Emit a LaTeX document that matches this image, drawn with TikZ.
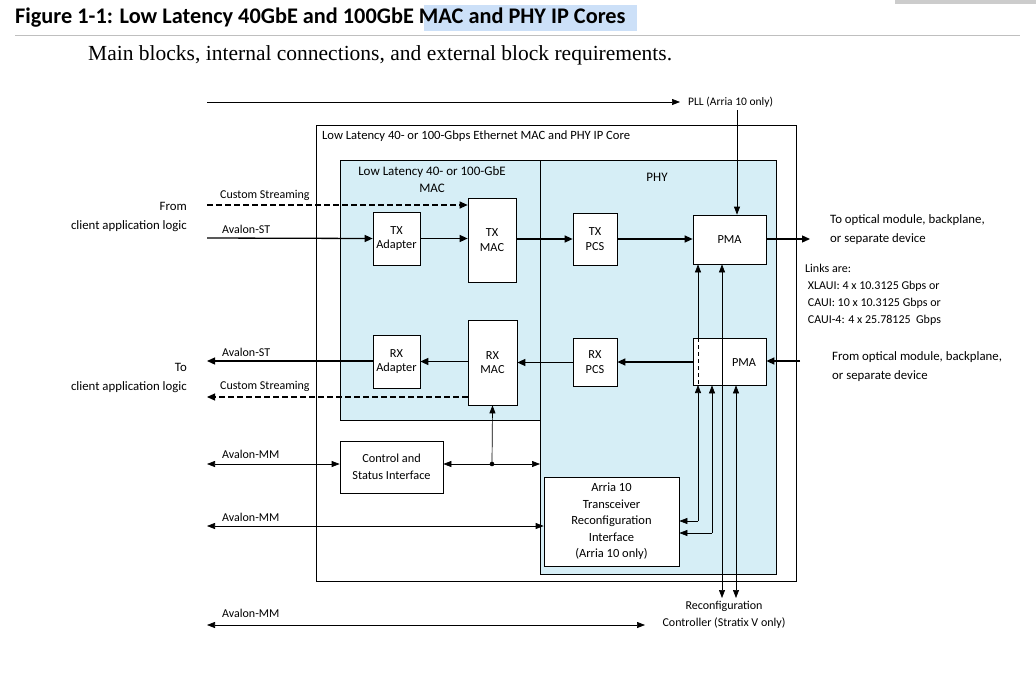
\documentclass[tikz,border=0pt]{standalone}
\usepackage{fontspec}
\setmainfont{Carlito}
\newfontfamily\serifx{Liberation Serif}
\usetikzlibrary{arrows.meta}
\definecolor{phyblue}{HTML}{D6EEF6}
\definecolor{hl}{HTML}{CCE0F8}
\begin{document}
\begin{tikzpicture}[x=1pt,y=-1pt,
  blk/.style={draw,fill=white,line width=0.7pt,align=center,inner sep=0pt,font=\fontsize{12.3}{14.5}\selectfont},
  lbl/.style={font=\fontsize{12}{15}\selectfont,inner sep=0pt},
  arr/.style={line width=1.3pt,-{Triangle[length=8pt,width=7pt]}},
  tarr/.style={line width=0.7pt,-{Triangle[length=8pt,width=6pt]}},
  darr/.style={line width=0.7pt,{Triangle[length=8pt,width=6pt]}-{Triangle[length=8pt,width=6pt]}},
  dsh/.style={dash pattern=on 6pt off 3pt}]
\useasboundingbox (0,0) rectangle (1036,675);
\fill[white] (0,0) rectangle (1036,675);
\fill[gray!40] (895,0) rectangle (1036,4);
\fill[hl] (424,5) rectangle (637,31);
\node[anchor=west,inner sep=0pt,font=\fontsize{22.3}{26}\selectfont\bfseries] (title) at (15,18) {Figure 1-1: Low Latency 40GbE and 100GbE MAC and PHY IP Cores};
\draw[gray!50,line width=0.8pt] (15,35) -- (1020,35);
\node[anchor=west,inner sep=0pt,font=\serifx\fontsize{21.5}{24}\selectfont] (sub) at (88,55) {Main blocks, internal connections, and external block requirements.};
% regions
\node[draw,line width=0.7pt,minimum width=480,minimum height=456,anchor=north west,inner sep=0pt] (outer) at (316,125) {};
\node[lbl,anchor=west,font=\fontsize{12.6}{15}\selectfont] (outerlbl) at (322,136) {Low Latency 40- or 100-Gbps Ethernet MAC and PHY IP Core};
\node[draw,fill=phyblue,line width=0.7pt,minimum width=236,minimum height=414,anchor=north west,inner sep=0pt] (phy) at (540,160) {};
\node[draw,fill=phyblue,line width=0.7pt,minimum width=200,minimum height=260,anchor=north west,inner sep=0pt] (mac) at (340,160) {};
\node[lbl,align=center,font=\fontsize{13}{17}\selectfont] (maclbl) at (432,180) {Low Latency 40- or 100-GbE\\MAC};
\node[lbl,font=\fontsize{13}{15}\selectfont] (phylbl) at (657,177) {PHY};
% blocks
\node[blk,minimum width=47,minimum height=53] (txa) at (396.5,238.5) {TX\\Adapter};
\node[blk,minimum width=48,minimum height=84] (txm) at (492,240) {TX\\MAC};
\node[blk,minimum width=44,minimum height=52] (txp) at (595,239) {TX\\PCS};
\node[blk,minimum width=73,minimum height=49] (pmat) at (729.5,239.5) {PMA};
\node[blk,minimum width=47,minimum height=53] (rxa) at (396.5,361.5) {RX\\Adapter};
\node[blk,minimum width=49,minimum height=85] (rxm) at (492.5,362.5) {RX\\MAC};
\node[blk,minimum width=44,minimum height=48] (rxp) at (595,362) {RX\\PCS};
\node[blk,minimum width=73,minimum height=47] (pmar) at (729.5,361.5) {};
\node[lbl,font=\fontsize{12.3}{15}\selectfont] (pmartxt) at (744,363) {PMA};
\node[blk,minimum width=103,minimum height=52,font=\fontsize{12.3}{17}\selectfont] (csr) at (391.5,467) {Control and\\Status Interface};
\node[blk,minimum width=135,minimum height=89,font=\fontsize{12.5}{16.5}\selectfont] (a10) at (611.5,521.5) {Arria 10\\Transceiver\\Reconfiguration\\Interface\\(Arria 10 only)};
% left texts
\node[lbl,align=right,anchor=east,font=\fontsize{12.8}{19}\selectfont] (from) at (187,217) {From\\client application logic};
\node[lbl,align=right,anchor=east,font=\fontsize{12.8}{19}\selectfont] (to) at (187,378) {To\\client application logic};
\coordinate (cs1) at (207,205);
\coordinate (st1) at (207,238);
\coordinate (st2) at (207,361);
\coordinate (cs2) at (207,397);
\draw[line width=1.1pt,dsh,-{Triangle[length=8pt,width=7pt]}] (cs1) -- (cs1 -| txm.west);
\node[lbl,anchor=south west] (cslbl1) at (220,201) {Custom Streaming};
\draw[arr] (st1) -- (txa.west);
\node[lbl,anchor=south west] (stlbl1) at (222,234) {Avalon-ST};
\draw[arr] (txa) -- (txm.west |- txa);
\draw[arr] (txm.east |- txp) -- (txp);
\draw[arr] (txp) -- (txp -| pmat.west);
\coordinate (outr) at (810,239);
\draw[arr] (pmat.east |- outr) -- (outr);
\node[lbl,align=left,anchor=west,font=\fontsize{12.8}{19}\selectfont] (tooptical) at (830,229.5) {To optical module, backplane,\\or separate device};
\node[lbl,align=left,anchor=north west,font=\fontsize{12}{17}\selectfont] (links) at (805,264) {Links are:\\\ XLAUI: 4 x 10.3125 Gbps or\\\ CAUI: 10 x 10.3125 Gbps or\\\ CAUI-4: 4 x 25.78125\ \ Gbps};
\coordinate (inr) at (800,361);
\draw[arr] (inr) -- (pmar.east |- inr);
\node[lbl,align=left,anchor=west,font=\fontsize{12.8}{19}\selectfont] (fromoptical) at (832,366.5) {From optical module, backplane,\\or separate device};
\draw[arr] (pmar.west |- rxp) -- (rxp);
\draw[arr] (rxp.west |- rxm) -- (rxm);
\draw[arr] (rxm.west |- rxa) -- (rxa);
\draw[arr] (rxa.west |- st2) -- (st2);
\node[lbl,anchor=south west] (stlbl2) at (222,357) {Avalon-ST};
\draw[line width=1.1pt,dsh,-{Triangle[length=8pt,width=7pt]}] (rxm.west |- cs2) -- (cs2);
\node[lbl,anchor=south west] (cslbl2) at (220,392) {Custom Streaming};
% PLL
\coordinate (pll0) at (207,102);
\coordinate (pll1) at (680,102);
\draw[tarr] (pll0) -- (pll1);
\node[lbl,anchor=west,font=\fontsize{11.5}{14}\selectfont] (pll) at (688,102) {PLL (Arria 10 only)};
\draw[tarr] (737,110) -- (pmat.north -| 737,0);
% Avalon-MM
\coordinate (mm1) at (207,464);
\draw[darr] (mm1) -- (csr.west |- mm1);
\node[lbl,anchor=south west] (mmlbl1) at (222,459) {Avalon-MM};
\coordinate (jn) at (492,464);
\draw[darr] (csr.east |- jn) -- (540,464);
\fill (jn) circle (2.3pt);
\draw[tarr] (jn) -- (rxm.south);
\coordinate (mm2) at (207,526);
\draw[darr] (mm2) -- (a10.west |- mm2);
\node[lbl,anchor=south west] (mmlbl2) at (222,522) {Avalon-MM};
\coordinate (mm3a) at (207,625);
\coordinate (mm3b) at (645,625);
\draw[darr] (mm3a) -- (mm3b);
\node[lbl,anchor=south west] (mmlbl3) at (222,618) {Avalon-MM};
\node[lbl,align=center,font=\fontsize{12}{17}\selectfont] (rc) at (724,615) {Reconfiguration\\Controller (Stratix V only)};
% vertical links
\draw[line width=0.7pt,-{Triangle[length=8pt,width=6pt]}] (698,521) -- (698,385);
\draw[line width=0.7pt,-{Triangle[length=8pt,width=6pt]}] (698,338) -- (pmat.south -| 698,0);
\draw[line width=0.7pt,dash pattern=on 4pt off 3pt] (698,338) -- (698,385);
\draw[line width=0.7pt,-{Triangle[length=8pt,width=6pt]}] (698,521) -- (a10.east |- 698,521);
\draw[line width=0.7pt,-{Triangle[length=8pt,width=6pt]}] (712,533) -- (pmar.south -| 712,0);
\draw[line width=0.7pt,-{Triangle[length=8pt,width=6pt]}] (712,533) -- (a10.east |- 712,533);
\draw[line width=0.7pt,-{Triangle[length=8pt,width=6pt]}] (722,385) -- (pmat.south -| 722,0);
\draw[line width=0.7pt,-{Triangle[length=8pt,width=6pt]}] (722,385) -- (722,598);
\draw[line width=0.7pt,dash pattern=on 4pt off 3pt] (722,338) -- (722,385);
\draw[line width=0.7pt,{Triangle[length=8pt,width=6pt]}-{Triangle[length=8pt,width=6pt]}] (736,598) -- (pmar.south -| 736,0);
\end{tikzpicture}
\end{document}
